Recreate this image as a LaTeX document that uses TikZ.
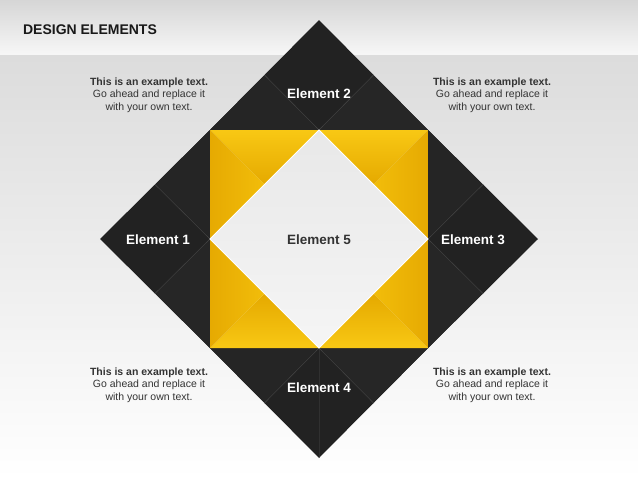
\documentclass[tikz,border=0pt]{standalone}
\usepackage{fontspec}
\setmainfont{Liberation Sans}
\definecolor{headtop}{HTML}{D6D6D6}
\definecolor{headbot}{HTML}{F7F7F7}
\definecolor{bodytop}{HTML}{DCDCDC}
\definecolor{darkA}{HTML}{222222}
\definecolor{darkB}{HTML}{252525}
\definecolor{darkC}{HTML}{262626}
\definecolor{seamgray}{HTML}{474747}
\definecolor{yelA}{HTML}{F8C814}
\definecolor{yelB}{HTML}{E5A900}
\definecolor{goldA}{HTML}{E6AA02}
\definecolor{goldB}{HTML}{F2BD0A}
\definecolor{captext}{HTML}{333333}
\begin{document}
\begin{tikzpicture}[x=1pt,y=-1pt,
  seam/.style={draw=seamgray,line width=0.4pt},
  elabel/.style={text=white,font=\fontsize{13.5}{16}\selectfont\bfseries},
  caption/.style={align=center,text=captext,font=\fontsize{10.5}{12.4}\selectfont}]
\useasboundingbox (0,0) rectangle (638,479);
% background
\shade[top color=headtop,bottom color=headbot] (0,0) rectangle (638,55);
\shade[top color=bodytop,bottom color=white] (0,55) rectangle (638,479);
\node (title) at (90,30) [font=\fontsize{14}{16}\selectfont\bfseries,text=black!90] {DESIGN ELEMENTS};
% corners
\coordinate (T) at (319,20);  \coordinate (L) at (100,239);
\coordinate (R) at (538,239); \coordinate (B) at (319,458);
\coordinate (tl) at (210,130); \coordinate (tr) at (428,130);
\coordinate (br) at (428,348); \coordinate (bl) at (210,348);
\coordinate (wt) at (319,130); \coordinate (wl) at (210,239);
\coordinate (wr) at (428,239); \coordinate (wb) at (319,348);
\coordinate (mTl) at (264.5,75);  \coordinate (mTr) at (373.5,75);
\coordinate (mLt) at (155,184.5); \coordinate (mLb) at (155,293.5);
\coordinate (mRt) at (483,184.5); \coordinate (mRb) at (483,293.5);
\coordinate (mBl) at (264.5,403); \coordinate (mBr) at (373.5,403);
\coordinate (ytl) at (264.5,184.5); \coordinate (ytr) at (373.5,184.5);
\coordinate (ybl) at (264.5,293.5); \coordinate (ybr) at (373.5,293.5);
% dark triangles
\foreach \a/\p/\q/\i/\m/\n in {T/tl/tr/wt/mTl/mTr, L/tl/bl/wl/mLt/mLb,
    R/tr/br/wr/mRt/mRb, B/bl/br/wb/mBl/mBr} {
  \fill[darkA] (\a) -- (\p) -- (\q) -- cycle;
  \fill[darkB] (\p) -- (\m) -- (\i) -- cycle;
  \fill[darkC] (\q) -- (\n) -- (\i) -- cycle;
  \draw[seam] (\m) -- (\i) -- (\n);
}
\draw[seam,draw opacity=0.4] (wb) -- (B);
% yellow frame
\shade[top color=yelA,bottom color=yelB] (tl) -- (wt) -- (ytl) -- cycle;
\shade[top color=yelA,bottom color=yelB] (wt) -- (tr) -- (ytr) -- cycle;
\shade[top color=yelB,bottom color=yelA] (bl) -- (wb) -- (ybl) -- cycle;
\shade[top color=yelB,bottom color=yelA] (wb) -- (br) -- (ybr) -- cycle;
\shade[left color=goldA,right color=goldB] (tl) -- (wl) -- (ytl) -- cycle;
\shade[left color=goldA,right color=goldB] (bl) -- (wl) -- (ybl) -- cycle;
\shade[left color=goldB,right color=goldA] (tr) -- (wr) -- (ytr) -- cycle;
\shade[left color=goldB,right color=goldA] (br) -- (wr) -- (ybr) -- cycle;
% white diamond
\shade[top color=black!9,bottom color=black!4,draw=white,line width=1pt]
  (wt) -- (wr) -- (wb) -- (wl) -- cycle;
% labels
\node (e1) at (158,240) [elabel] {Element 1};
\node (e2) at (319,94) [elabel] {Element 2};
\node (e3) at (473,240) [elabel] {Element 3};
\node (e4) at (319,388) [elabel] {Element 4};
\node (e5) at (319,240) [elabel,text=captext] {Element 5};
\node (c1) at (149,95) [caption] {\textbf{This is an example text.}\\Go ahead and replace it\\with your own text.};
\node (c2) at (492,95) [caption] {\textbf{This is an example text.}\\Go ahead and replace it\\with your own text.};
\node (c3) at (149,385) [caption] {\textbf{This is an example text.}\\Go ahead and replace it\\with your own text.};
\node (c4) at (492,385) [caption] {\textbf{This is an example text.}\\Go ahead and replace it\\with your own text.};
\end{tikzpicture}
\end{document}
